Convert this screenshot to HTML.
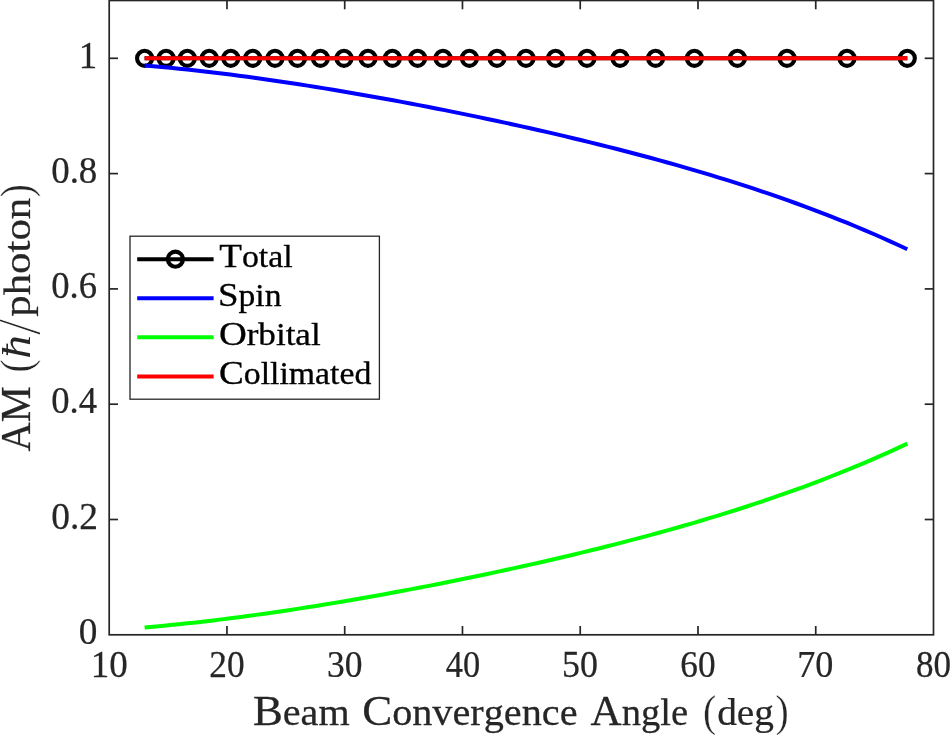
<!DOCTYPE html>
<html lang="en"><head><meta charset="utf-8"><title>AM vs Beam Convergence Angle</title>
<style>html,body{margin:0;padding:0;background:#fff;}svg{display:block;}text{font-family:"Liberation Serif","DejaVu Serif",serif;fill:#262626;font-kerning:none;white-space:pre;}</style></head><body>
<svg width="950" height="735" viewBox="0 0 950 735">
<rect x="0" y="0" width="950" height="735" fill="#ffffff"/>
<g stroke="#262626" stroke-width="1.7" fill="none" stroke-linecap="butt">
<rect x="109.2" y="0.5" width="824.3" height="634.3"/>
<line x1="226.96" y1="634.8" x2="226.96" y2="626"/>
<line x1="226.96" y1="0.5" x2="226.96" y2="9.3"/>
<line x1="344.71" y1="634.8" x2="344.71" y2="626"/>
<line x1="344.71" y1="0.5" x2="344.71" y2="9.3"/>
<line x1="462.47" y1="634.8" x2="462.47" y2="626"/>
<line x1="462.47" y1="0.5" x2="462.47" y2="9.3"/>
<line x1="580.23" y1="634.8" x2="580.23" y2="626"/>
<line x1="580.23" y1="0.5" x2="580.23" y2="9.3"/>
<line x1="697.99" y1="634.8" x2="697.99" y2="626"/>
<line x1="697.99" y1="0.5" x2="697.99" y2="9.3"/>
<line x1="815.74" y1="634.8" x2="815.74" y2="626"/>
<line x1="815.74" y1="0.5" x2="815.74" y2="9.3"/>
<line x1="109.2" y1="519.5" x2="118" y2="519.5"/>
<line x1="933.5" y1="519.5" x2="924.7" y2="519.5"/>
<line x1="109.2" y1="404.2" x2="118" y2="404.2"/>
<line x1="933.5" y1="404.2" x2="924.7" y2="404.2"/>
<line x1="109.2" y1="288.9" x2="118" y2="288.9"/>
<line x1="933.5" y1="288.9" x2="924.7" y2="288.9"/>
<line x1="109.2" y1="173.6" x2="118" y2="173.6"/>
<line x1="933.5" y1="173.6" x2="924.7" y2="173.6"/>
<line x1="109.2" y1="58.3" x2="118" y2="58.3"/>
<line x1="933.5" y1="58.3" x2="924.7" y2="58.3"/>
</g>
<g fill="none" stroke-linecap="butt" stroke-linejoin="round">
<line x1="144.6" y1="58.3" x2="907.3" y2="58.3" stroke="#000" stroke-width="4"/>
<circle cx="144.6" cy="58.3" r="7.55" stroke="#000" stroke-width="4.1"/>
<circle cx="166.1" cy="58.3" r="7.55" stroke="#000" stroke-width="4.1"/>
<circle cx="187.3" cy="58.3" r="7.55" stroke="#000" stroke-width="4.1"/>
<circle cx="209.2" cy="58.3" r="7.55" stroke="#000" stroke-width="4.1"/>
<circle cx="230.8" cy="58.3" r="7.55" stroke="#000" stroke-width="4.1"/>
<circle cx="252.7" cy="58.3" r="7.55" stroke="#000" stroke-width="4.1"/>
<circle cx="275" cy="58.3" r="7.55" stroke="#000" stroke-width="4.1"/>
<circle cx="297.5" cy="58.3" r="7.55" stroke="#000" stroke-width="4.1"/>
<circle cx="320.4" cy="58.3" r="7.55" stroke="#000" stroke-width="4.1"/>
<circle cx="344" cy="58.3" r="7.55" stroke="#000" stroke-width="4.1"/>
<circle cx="368" cy="58.3" r="7.55" stroke="#000" stroke-width="4.1"/>
<circle cx="392.4" cy="58.3" r="7.55" stroke="#000" stroke-width="4.1"/>
<circle cx="417.6" cy="58.3" r="7.55" stroke="#000" stroke-width="4.1"/>
<circle cx="443" cy="58.3" r="7.55" stroke="#000" stroke-width="4.1"/>
<circle cx="469.4" cy="58.3" r="7.55" stroke="#000" stroke-width="4.1"/>
<circle cx="497" cy="58.3" r="7.55" stroke="#000" stroke-width="4.1"/>
<circle cx="526" cy="58.3" r="7.55" stroke="#000" stroke-width="4.1"/>
<circle cx="555.6" cy="58.3" r="7.55" stroke="#000" stroke-width="4.1"/>
<circle cx="587" cy="58.3" r="7.55" stroke="#000" stroke-width="4.1"/>
<circle cx="620" cy="58.3" r="7.55" stroke="#000" stroke-width="4.1"/>
<circle cx="655.6" cy="58.3" r="7.55" stroke="#000" stroke-width="4.1"/>
<circle cx="694.4" cy="58.3" r="7.55" stroke="#000" stroke-width="4.1"/>
<circle cx="737.4" cy="58.3" r="7.55" stroke="#000" stroke-width="4.1"/>
<circle cx="787" cy="58.3" r="7.55" stroke="#000" stroke-width="4.1"/>
<circle cx="847" cy="58.3" r="7.55" stroke="#000" stroke-width="4.1"/>
<circle cx="907.3" cy="58.3" r="7.55" stroke="#000" stroke-width="4.1"/>
<polyline points="144.6,65.49 153.17,66.22 161.74,66.99 170.31,67.81 178.88,68.67 187.45,69.56 196.02,70.5 204.59,71.47 213.16,72.48 221.73,73.52 230.3,74.59 238.87,75.7 247.44,76.84 256.01,78.01 264.58,79.21 273.14,80.44 281.71,81.7 290.28,82.98 298.85,84.29 307.42,85.63 315.99,86.99 324.56,88.38 333.13,89.79 341.7,91.23 350.27,92.69 358.84,94.17 367.41,95.67 375.98,97.2 384.55,98.74 393.12,100.31 401.69,101.9 410.26,103.51 418.83,105.14 427.4,106.8 435.97,108.47 444.54,110.16 453.11,111.88 461.68,113.61 470.25,115.37 478.82,117.15 487.39,118.95 495.96,120.77 504.53,122.61 513.1,124.48 521.67,126.37 530.23,128.28 538.8,130.21 547.37,132.17 555.94,134.15 564.51,136.16 573.08,138.2 581.65,140.26 590.22,142.35 598.79,144.46 607.36,146.61 615.93,148.78 624.5,150.99 633.07,153.22 641.64,155.49 650.21,157.8 658.78,160.13 667.35,162.51 675.92,164.92 684.49,167.36 693.06,169.85 701.63,172.38 710.2,174.95 718.77,177.56 727.34,180.21 735.91,182.92 744.48,185.67 753.05,188.47 761.62,191.32 770.19,194.22 778.76,197.17 787.32,200.19 795.89,203.25 804.46,206.38 813.03,209.57 821.6,212.82 830.17,216.14 838.74,219.52 847.31,222.97 855.88,226.49 864.45,230.09 873.02,233.76 881.59,237.5 890.16,241.33 898.73,245.23 907.3,249.23" stroke="#0000ff" stroke-width="4"/>
<polyline points="144.6,627.41 153.17,626.68 161.74,625.91 170.31,625.09 178.88,624.23 187.45,623.34 196.02,622.4 204.59,621.43 213.16,620.42 221.73,619.38 230.3,618.31 238.87,617.2 247.44,616.06 256.01,614.89 264.58,613.69 273.14,612.46 281.71,611.2 290.28,609.92 298.85,608.61 307.42,607.27 315.99,605.91 324.56,604.52 333.13,603.11 341.7,601.67 350.27,600.21 358.84,598.73 367.41,597.23 375.98,595.7 384.55,594.16 393.12,592.59 401.69,591 410.26,589.39 418.83,587.76 427.4,586.1 435.97,584.43 444.54,582.74 453.11,581.02 461.68,579.29 470.25,577.53 478.82,575.75 487.39,573.95 495.96,572.13 504.53,570.29 513.1,568.42 521.67,566.53 530.23,564.62 538.8,562.69 547.37,560.73 555.94,558.75 564.51,556.74 573.08,554.7 581.65,552.64 590.22,550.55 598.79,548.44 607.36,546.29 615.93,544.12 624.5,541.91 633.07,539.68 641.64,537.41 650.21,535.1 658.78,532.77 667.35,530.39 675.92,527.98 684.49,525.54 693.06,523.05 701.63,520.52 710.2,517.95 718.77,515.34 727.34,512.69 735.91,509.98 744.48,507.23 753.05,504.43 761.62,501.58 770.19,498.68 778.76,495.73 787.32,492.71 795.89,489.65 804.46,486.52 813.03,483.33 821.6,480.08 830.17,476.76 838.74,473.38 847.31,469.93 855.88,466.41 864.45,462.81 873.02,459.14 881.59,455.4 890.16,451.57 898.73,447.67 907.3,443.67" stroke="#00ff00" stroke-width="4"/>
<line x1="144.6" y1="58.3" x2="907.3" y2="58.3" stroke="#ff0000" stroke-width="4"/>
</g>
<rect x="130" y="236.2" width="249.4" height="163" fill="#fff" stroke="#262626" stroke-width="1.3"/>
<line x1="137.2" y1="259.2" x2="213.6" y2="259.2" stroke="#000" stroke-width="4"/>
<line x1="137.2" y1="298.27" x2="213.6" y2="298.27" stroke="#0000ff" stroke-width="4"/>
<line x1="137.2" y1="337.34" x2="213.6" y2="337.34" stroke="#00ff00" stroke-width="4"/>
<line x1="137.2" y1="376.41" x2="213.6" y2="376.41" stroke="#ff0000" stroke-width="4"/>
<circle cx="175.4" cy="259.2" r="7.55" fill="none" stroke="#000" stroke-width="4.1"/>
<text transform="translate(219.33 267.2) scale(1.1045 1)" style="fill:#000" stroke="#000" stroke-width="0.3"><tspan font-size="33.6">T</tspan><tspan font-size="30.6">otal</tspan></text>
<text transform="translate(218.03 306.27) scale(1.0985 1)" style="fill:#000" stroke="#000" stroke-width="0.3"><tspan font-size="33.6">S</tspan><tspan font-size="30.6">pin</tspan></text>
<text transform="translate(218.92 345.34) scale(1.1456 1)" style="fill:#000" stroke="#000" stroke-width="0.3"><tspan font-size="33.6">O</tspan><tspan font-size="30.6">rbital</tspan></text>
<text transform="translate(218.98 384.41) scale(1.1047 1)" style="fill:#000" stroke="#000" stroke-width="0.3"><tspan font-size="33.6">C</tspan><tspan font-size="30.6">ollimated</tspan></text>
<text transform="translate(90.74 677) scale(0.9885 1)" font-size="37.5" stroke="#262626" stroke-width="0.25">10</text>
<text transform="translate(209.31 677) scale(0.9412 1)" font-size="37.5" stroke="#262626" stroke-width="0.25">20</text>
<text transform="translate(326.92 677) scale(0.9452 1)" font-size="37.5" stroke="#262626" stroke-width="0.25">30</text>
<text transform="translate(445.7 677) scale(0.9168 1)" font-size="37.5" stroke="#262626" stroke-width="0.25">40</text>
<text transform="translate(562.05 677) scale(0.9560 1)" font-size="37.5" stroke="#262626" stroke-width="0.25">50</text>
<text transform="translate(680.37 677) scale(0.9402 1)" font-size="37.5" stroke="#262626" stroke-width="0.25">60</text>
<text transform="translate(797.26 677) scale(0.9643 1)" font-size="37.5" stroke="#262626" stroke-width="0.25">70</text>
<text transform="translate(916.06 677) scale(0.9352 1)" font-size="37.5" stroke="#262626" stroke-width="0.25">80</text>
<text transform="translate(78.78 644) scale(0.9941 1)" font-size="37.5" stroke="#262626" stroke-width="0.25">0</text>
<text transform="translate(51.17 528.7) scale(0.9982 1)" font-size="37.5" stroke="#262626" stroke-width="0.25">0.2</text>
<text transform="translate(51.21 413.4) scale(0.9764 1)" font-size="37.5" stroke="#262626" stroke-width="0.25">0.4</text>
<text transform="translate(51.2 298.1) scale(0.9768 1)" font-size="37.5" stroke="#262626" stroke-width="0.25">0.6</text>
<text transform="translate(51.2 182.8) scale(0.9837 1)" font-size="37.5" stroke="#262626" stroke-width="0.25">0.8</text>
<text transform="translate(78.75 67.5) scale(0.9847 1)" font-size="37.5" stroke="#262626" stroke-width="0.25">1</text>
<text transform="translate(252.91 724.8) scale(1.0726 1)" stroke="#262626" stroke-width="0.25"><tspan font-size="41.8">B</tspan><tspan font-size="37.4">eam</tspan></text>
<text transform="translate(362.16 724.8) scale(1.0759 1)" stroke="#262626" stroke-width="0.25"><tspan font-size="41.8">C</tspan><tspan font-size="37.4">onvergence</tspan></text>
<text transform="translate(590.58 724.8) scale(1.0304 1)" stroke="#262626" stroke-width="0.25"><tspan font-size="41.8">A</tspan><tspan font-size="37.4">ngle</tspan></text>
<text transform="translate(703.05 725.6) scale(0.8904 1)" font-size="44.6" stroke="#fff" stroke-width="0.34">(</text>
<text transform="translate(717.18 724.8) scale(1.0513 1)" font-size="37.4" stroke="#262626" stroke-width="0.25">deg</text>
<text transform="translate(775.52 725.6) scale(0.8904 1)" font-size="44.6" stroke="#fff" stroke-width="0.34">)</text>
<g transform="translate(30 451.2) rotate(-90)">
<text transform="translate(-0.4 0) scale(0.9646 1)" font-size="42" stroke="#262626" stroke-width="0.25">AM</text>
<text transform="translate(78.77 0.8) scale(0.8817 1)" font-size="44.6" stroke="#fff" stroke-width="0.34">(</text>
<text transform="translate(92.49 0) scale(1.1750 1)" font-size="40.3" font-style="italic">ħ</text>
<text transform="translate(115.9 10.2) scale(0.9848 1)" font-size="62.5" stroke="#fff" stroke-width="1.02">/</text>
<text transform="translate(134.51 0) scale(1.1448 1)" font-size="37.4" stroke="#262626" stroke-width="0.25">photon</text>
<text transform="translate(253.83 0.8) scale(0.8817 1)" font-size="44.6" stroke="#fff" stroke-width="0.34">)</text>
</g>
</svg></body></html>
